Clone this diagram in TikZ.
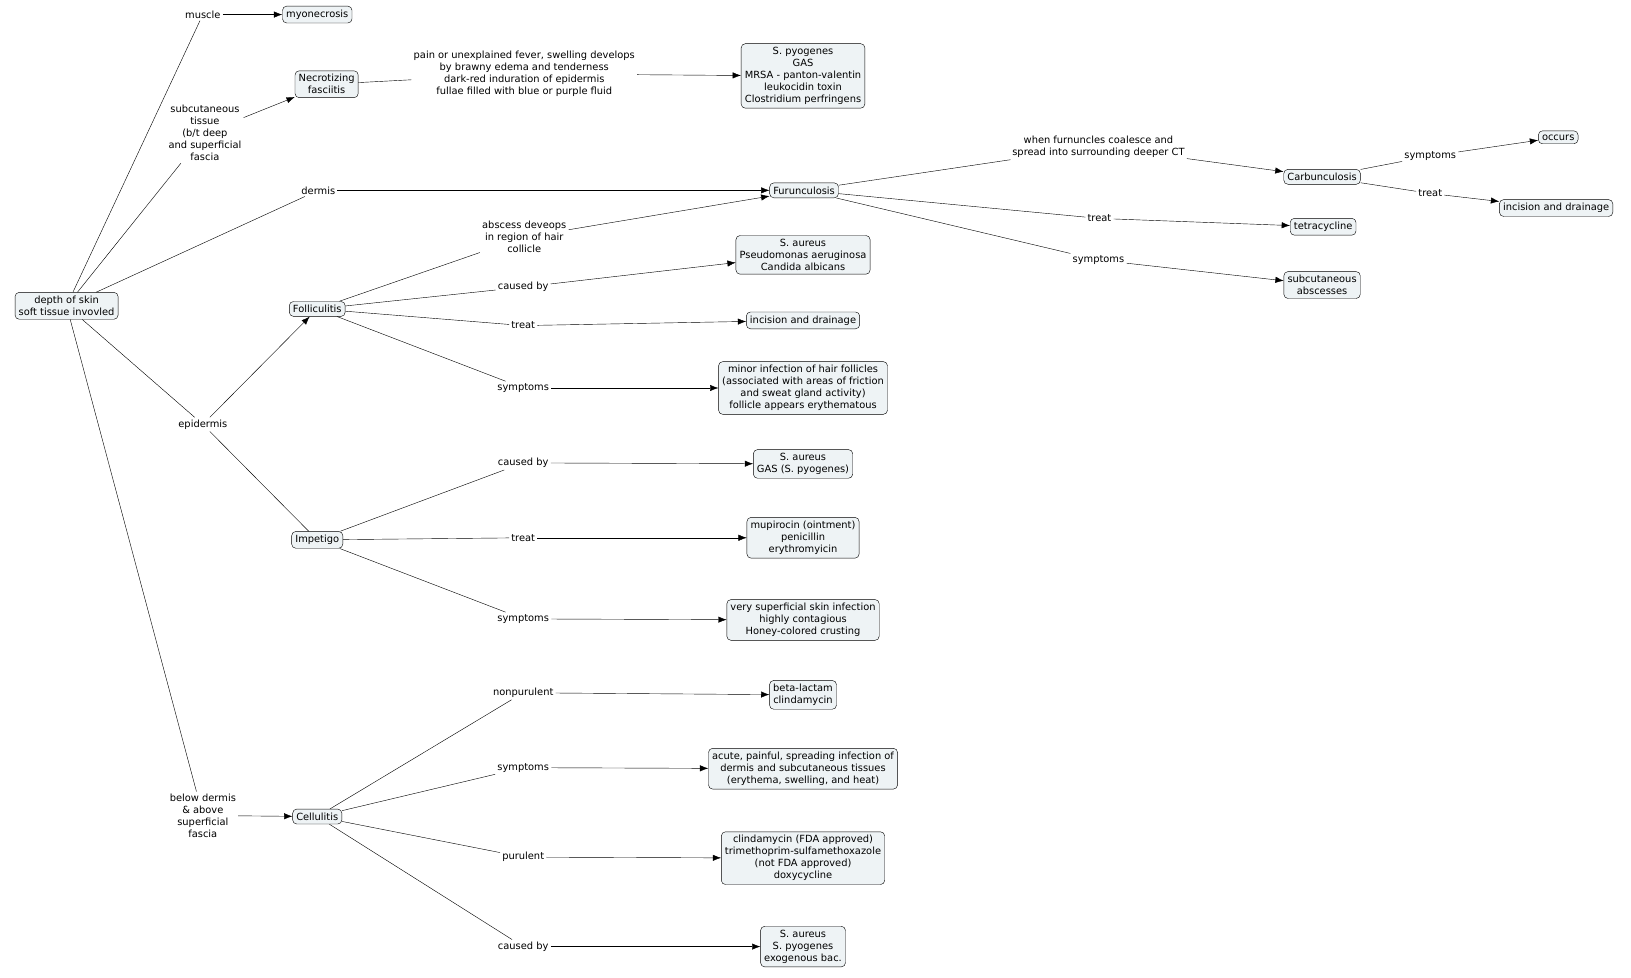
\documentclass[tikz,border=0pt]{standalone}
\usepackage{fontspec}
\setmainfont{DejaVu Sans}
\usetikzlibrary{arrows.meta}
\tikzstyle{concept} = [rectangle, rounded corners=4pt, draw=black, fill={rgb,255:red,238;green,243;blue,245}, align=center, inner sep=3.5pt, font=\fontsize{9.5}{11.5}\selectfont]
\tikzstyle{phrase} = [align=center, inner sep=2pt, font=\fontsize{9.5}{11.5}\selectfont]
\tikzstyle{arrow} = [-{Latex[length=8pt,width=6pt]}]
\begin{document}
\begin{tikzpicture}[x=1pt, y=-1pt]
    \useasboundingbox (0,0) rectangle (1568,940);
    % Place nodes
    \node [concept] (root) at (64,294) {depth of skin\\soft tissue invovled};
    \node [phrase] (muscle) at (195,14) {muscle};
    \node [concept] (myo) at (305,14) {myonecrosis};
    \node [phrase] (subcut) at (197,128) {subcutaneous\\tissue\\(b/t deep\\and superficial\\fascia};
    \node [concept] (necro) at (314,81) {Necrotizing\\fasciitis};
    \node [phrase] (pain) at (504,71) {pain or unexplained fever, swelling develops\\by brawny edema and tenderness\\dark-red induration of epidermis\\fullae filled with blue or purple fluid};
    \node [concept] (pyog) at (772,73) {S. pyogenes\\GAS\\MRSA - panton-valentin\\leukocidin toxin\\Clostridium perfringens};
    \node [phrase] (dermis) at (306,183) {dermis};
    \node [concept] (furu) at (773,183) {Furunculosis};
    \node [phrase] (abscess) at (504,228) {abscess deveops\\in region of hair\\collicle};
    \node [concept] (folli) at (305,297) {Folliculitis};
    \node [phrase] (epi) at (195,408) {epidermis};
    \node [concept] (impe) at (305,519) {Impetigo};
    \node [phrase] (below) at (195,784) {below dermis\\\& above\\superficial\\fascia};
    \node [concept] (cell) at (305,785) {Cellulitis};
    % Furunculosis
    \node [phrase] (coalesce) at (1056,141) {when furnuncles coalesce and\\spread into surrounding deeper CT};
    \node [concept] (carb) at (1271,170) {Carbunculosis};
    \node [phrase] (carbsym) at (1375,150) {symptoms};
    \node [concept] (occurs) at (1498,132) {occurs};
    \node [phrase] (carbtreat) at (1375,186) {treat};
    \node [concept] (carbinc) at (1496,200) {incision and drainage};
    \node [phrase] (furutreat) at (1057,210) {treat};
    \node [concept] (tetra) at (1272,218) {tetracycline};
    \node [phrase] (furusym) at (1056,250) {symptoms};
    \node [concept] (subabs) at (1271,274) {subcutaneous\\abscesses};
    % Folliculitis
    \node [phrase] (follicause) at (503,276) {caused by};
    \node [concept] (follibug) at (772,245) {S. aureus\\Pseudomonas aeruginosa\\Candida albicans};
    \node [phrase] (follitreat) at (503,313) {treat};
    \node [concept] (folliinc) at (772,308) {incision and drainage};
    \node [phrase] (follisym) at (503,373) {symptoms};
    \node [concept] (follisign) at (772,373) {minor infection of hair follicles\\(associated with areas of friction\\and sweat gland activity)\\follicle appears erythematous};
    % Impetigo
    \node [phrase] (impecause) at (503,445) {caused by};
    \node [concept] (impebug) at (772,446) {S. aureus\\GAS (S. pyogenes)};
    \node [phrase] (impetreat) at (503,517) {treat};
    \node [concept] (impedrug) at (772,517) {mupirocin (ointment)\\penicillin\\erythromyicin};
    \node [phrase] (impesym) at (503,595) {symptoms};
    \node [concept] (impesign) at (772,596) {very superficial skin infection\\highly contagious\\Honey-colored crusting};
    % Cellulitis
    \node [phrase] (nonpur) at (503,666) {nonpurulent};
    \node [concept] (nonpurdrug) at (772,668) {beta-lactam\\clindamycin};
    \node [phrase] (cellsym) at (503,738) {symptoms};
    \node [concept] (cellsign) at (772,739) {acute, painful, spreading infection of\\dermis and subcutaneous tissues\\(erythema, swelling, and heat)};
    \node [phrase] (pur) at (503,824) {purulent};
    \node [concept] (purdrug) at (772,825) {clindamycin (FDA approved)\\trimethoprim-sulfamethoxazole\\(not FDA approved)\\doxycycline};
    \node [phrase] (cellcause) at (503,910) {caused by};
    \node [concept] (cellbug) at (772,910) {S. aureus\\S. pyogenes\\exogenous bac.};

    % Connectors
    \foreach \a in {muscle,subcut,dermis,epi,below}
        \draw (root) -- (\a);
    \draw [arrow] (muscle) -- (myo);
    \draw [arrow] (subcut) -- (necro);
    \draw (necro) -- (pain);
    \draw [arrow] (pain) -- (pyog);
    \draw [arrow] (dermis) -- (furu);
    \draw [arrow] (epi) -- (folli);
    \draw (epi) -- (impe);
    \draw [arrow] (below) -- (cell);
    \draw (folli) -- (abscess);
    \draw [arrow] (abscess) -- (furu);
    \draw (furu) -- (coalesce);
    \draw [arrow] (coalesce) -- (carb);
    \draw (carb) -- (carbsym);
    \draw [arrow] (carbsym) -- (occurs);
    \draw (carb) -- (carbtreat);
    \draw [arrow] (carbtreat) -- (carbinc);
    \draw (furu) -- (furutreat);
    \draw [arrow] (furutreat) -- (tetra);
    \draw (furu) -- (furusym);
    \draw [arrow] (furusym) -- (subabs);
    \foreach \p/\c in {follicause/follibug,follitreat/folliinc,follisym/follisign}
        {\draw (folli) -- (\p); \draw [arrow] (\p) -- (\c);}
    \foreach \p/\c in {impecause/impebug,impetreat/impedrug,impesym/impesign}
        {\draw (impe) -- (\p); \draw [arrow] (\p) -- (\c);}
    \foreach \p/\c in {nonpur/nonpurdrug,cellsym/cellsign,pur/purdrug,cellcause/cellbug}
        {\draw (cell) -- (\p); \draw [arrow] (\p) -- (\c);}
\end{tikzpicture}
\end{document}
